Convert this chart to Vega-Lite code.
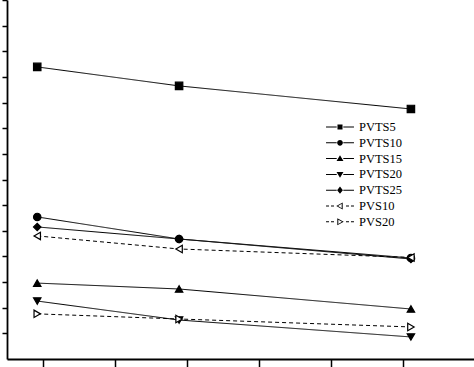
{
  "$schema": "https://vega.github.io/schema/vega-lite/v6.json",
  "width": 468,
  "height": 359,
  "autosize": {"type": "none"},
  "padding": {"left": 7, "top": 0, "right": 0, "bottom": 8},
  "background": "white",
  "config": {"view": {"stroke": null}},
  "data": {
    "values": [
      {"series": "PVTS5", "x": -0.08, "y": 11.39},
      {"series": "PVTS5", "x": 1.89, "y": 10.65},
      {"series": "PVTS5", "x": 5.11, "y": 9.75},
      {"series": "PVTS10", "x": -0.08, "y": 5.54},
      {"series": "PVTS10", "x": 1.89, "y": 4.68},
      {"series": "PVTS10", "x": 5.11, "y": 3.94},
      {"series": "PVTS15", "x": -0.08, "y": 2.96},
      {"series": "PVTS15", "x": 1.89, "y": 2.73},
      {"series": "PVTS15", "x": 5.11, "y": 1.95},
      {"series": "PVTS20", "x": -0.08, "y": 2.26},
      {"series": "PVTS20", "x": 1.89, "y": 1.52},
      {"series": "PVTS20", "x": 5.11, "y": 0.86},
      {"series": "PVTS25", "x": -0.08, "y": 5.15},
      {"series": "PVTS25", "x": 1.89, "y": 4.68},
      {"series": "PVTS25", "x": 5.11, "y": 3.9},
      {"series": "PVS10", "x": -0.08, "y": 4.8},
      {"series": "PVS10", "x": 1.89, "y": 4.29},
      {"series": "PVS10", "x": 5.11, "y": 3.96},
      {"series": "PVS20", "x": -0.08, "y": 1.76},
      {"series": "PVS20", "x": 1.89, "y": 1.56},
      {"series": "PVS20", "x": 5.11, "y": 1.25}
    ]
  },
  "encoding": {
    "x": {
      "field": "x", "type": "quantitative",
      "scale": {"domain": [-0.5, 6], "nice": false, "zero": false},
      "axis": {"title": null, "labels": false, "values": [0, 1, 2, 3, 4, 5, 6], "tickSize": 8, "tickWidth": 1.5, "tickColor": "black", "domainColor": "black", "domainWidth": 1.8, "grid": false}
    },
    "y": {
      "field": "y", "type": "quantitative",
      "scale": {"domain": [0, 14], "nice": false, "zero": false},
      "axis": {"title": null, "labels": false, "values": [1, 2, 3, 4, 5, 6, 7, 8, 9, 10, 11, 12, 13, 14], "tickSize": 5, "tickWidth": 1.5, "tickColor": "black", "domainColor": "black", "domainWidth": 1.8, "grid": false}
    }
  },
  "layer": [
    {
      "mark": {"type": "line", "color": "black", "strokeWidth": 1},
      "encoding": {
        "detail": {"field": "series"},
        "strokeDash": {
          "field": "series", "type": "nominal",
          "scale": {"domain": ["PVTS5", "PVTS10", "PVTS15", "PVTS20", "PVTS25", "PVS10", "PVS20"], "range": [[1, 0], [1, 0], [1, 0], [1, 0], [1, 0], [4, 3], [4, 3]]},
          "legend": null
        }
      }
    },
    {
      "mark": {"type": "point", "filled": true, "size": 55, "stroke": "black", "strokeWidth": 1.2, "opacity": 1},
      "encoding": {
        "shape": {
          "field": "series", "type": "nominal",
          "scale": {"domain": ["PVTS5", "PVTS10", "PVTS15", "PVTS20", "PVTS25", "PVS10", "PVS20"], "range": ["square", "circle", "triangle-up", "triangle-down", "diamond", "triangle-left", "triangle-right"]},
          "legend": null
        },
        "fill": {
          "field": "series", "type": "nominal",
          "scale": {"domain": ["PVTS5", "PVTS10", "PVTS15", "PVTS20", "PVTS25", "PVS10", "PVS20"], "range": ["black", "black", "black", "black", "black", "white", "white"]},
          "legend": null
        }
      }
    },
    {
      "transform": [{"filter": "datum.series == 'none'"}],
      "mark": {"type": "point", "filled": true, "color": "black", "opacity": 1},
      "encoding": {
        "shape": {
          "field": "series", "type": "nominal",
          "scale": {
            "domain": ["PVTS5", "PVTS10", "PVTS15", "PVTS20", "PVTS25", "PVS10", "PVS20"],
            "range": [
              "M-2.33,-0.08H-0.55V0.08H-2.33ZM0.55,-0.08H2.33V0.08H0.55ZM-0.42,-0.42H0.42V0.42H-0.42Z",
              "M-2.33,-0.08H-0.55V0.08H-2.33ZM0.55,-0.08H2.33V0.08H0.55ZM-0.48,0A0.48,0.48,0,1,1,0.48,0A0.48,0.48,0,1,1,-0.48,0Z",
              "M-2.33,-0.08H-0.55V0.08H-2.33ZM0.55,-0.08H2.33V0.08H0.55ZM0,-0.55L0.58,0.42L-0.58,0.42Z",
              "M-2.33,-0.08H-0.55V0.08H-2.33ZM0.55,-0.08H2.33V0.08H0.55ZM0,0.55L0.58,-0.42L-0.58,-0.42Z",
              "M-2.33,-0.08H-0.55V0.08H-2.33ZM0.55,-0.08H2.33V0.08H0.55ZM0,-0.6L0.48,0L0,0.6L-0.48,0Z",
              "M-2.33,-0.08H-1.83V0.08H-2.33ZM-1.5,-0.08H-1.0V0.08H-1.5ZM1.0,-0.08H1.5V0.08H1.0ZM1.83,-0.08H2.33V0.08H1.83ZM-0.62,0L0.45,-0.58L0.45,0.58ZM-0.33,0L0.28,0.36L0.28,-0.36Z",
              "M-2.33,-0.08H-1.83V0.08H-2.33ZM-1.5,-0.08H-1.0V0.08H-1.5ZM1.0,-0.08H1.5V0.08H1.0ZM1.83,-0.08H2.33V0.08H1.83ZM0.62,0L-0.45,-0.58L-0.45,0.58ZM0.33,0L-0.28,0.36L-0.28,-0.36Z"
            ]
          },
          "legend": {
            "title": null,
            "orient": "none",
            "legendX": 326,
            "legendY": 120,
            "symbolSize": 144,
            "symbolFillColor": "black",
            "symbolOpacity": 1,
            "labelFont": "Liberation Serif",
            "labelFontSize": 12.5,
            "labelColor": "black",
            "labelOffset": 12,
            "rowPadding": 1.8,
            "padding": 0,
            "encode": {
              "symbols": {
                "update": {
                  "fill": {"value": "black"},
                  "opacity": {"value": 1}
                }
              }
            }
          }
        }
      }
    }
  ],
  "resolve": {"scale": {"shape": "independent"}, "legend": {"shape": "independent"}}
}
